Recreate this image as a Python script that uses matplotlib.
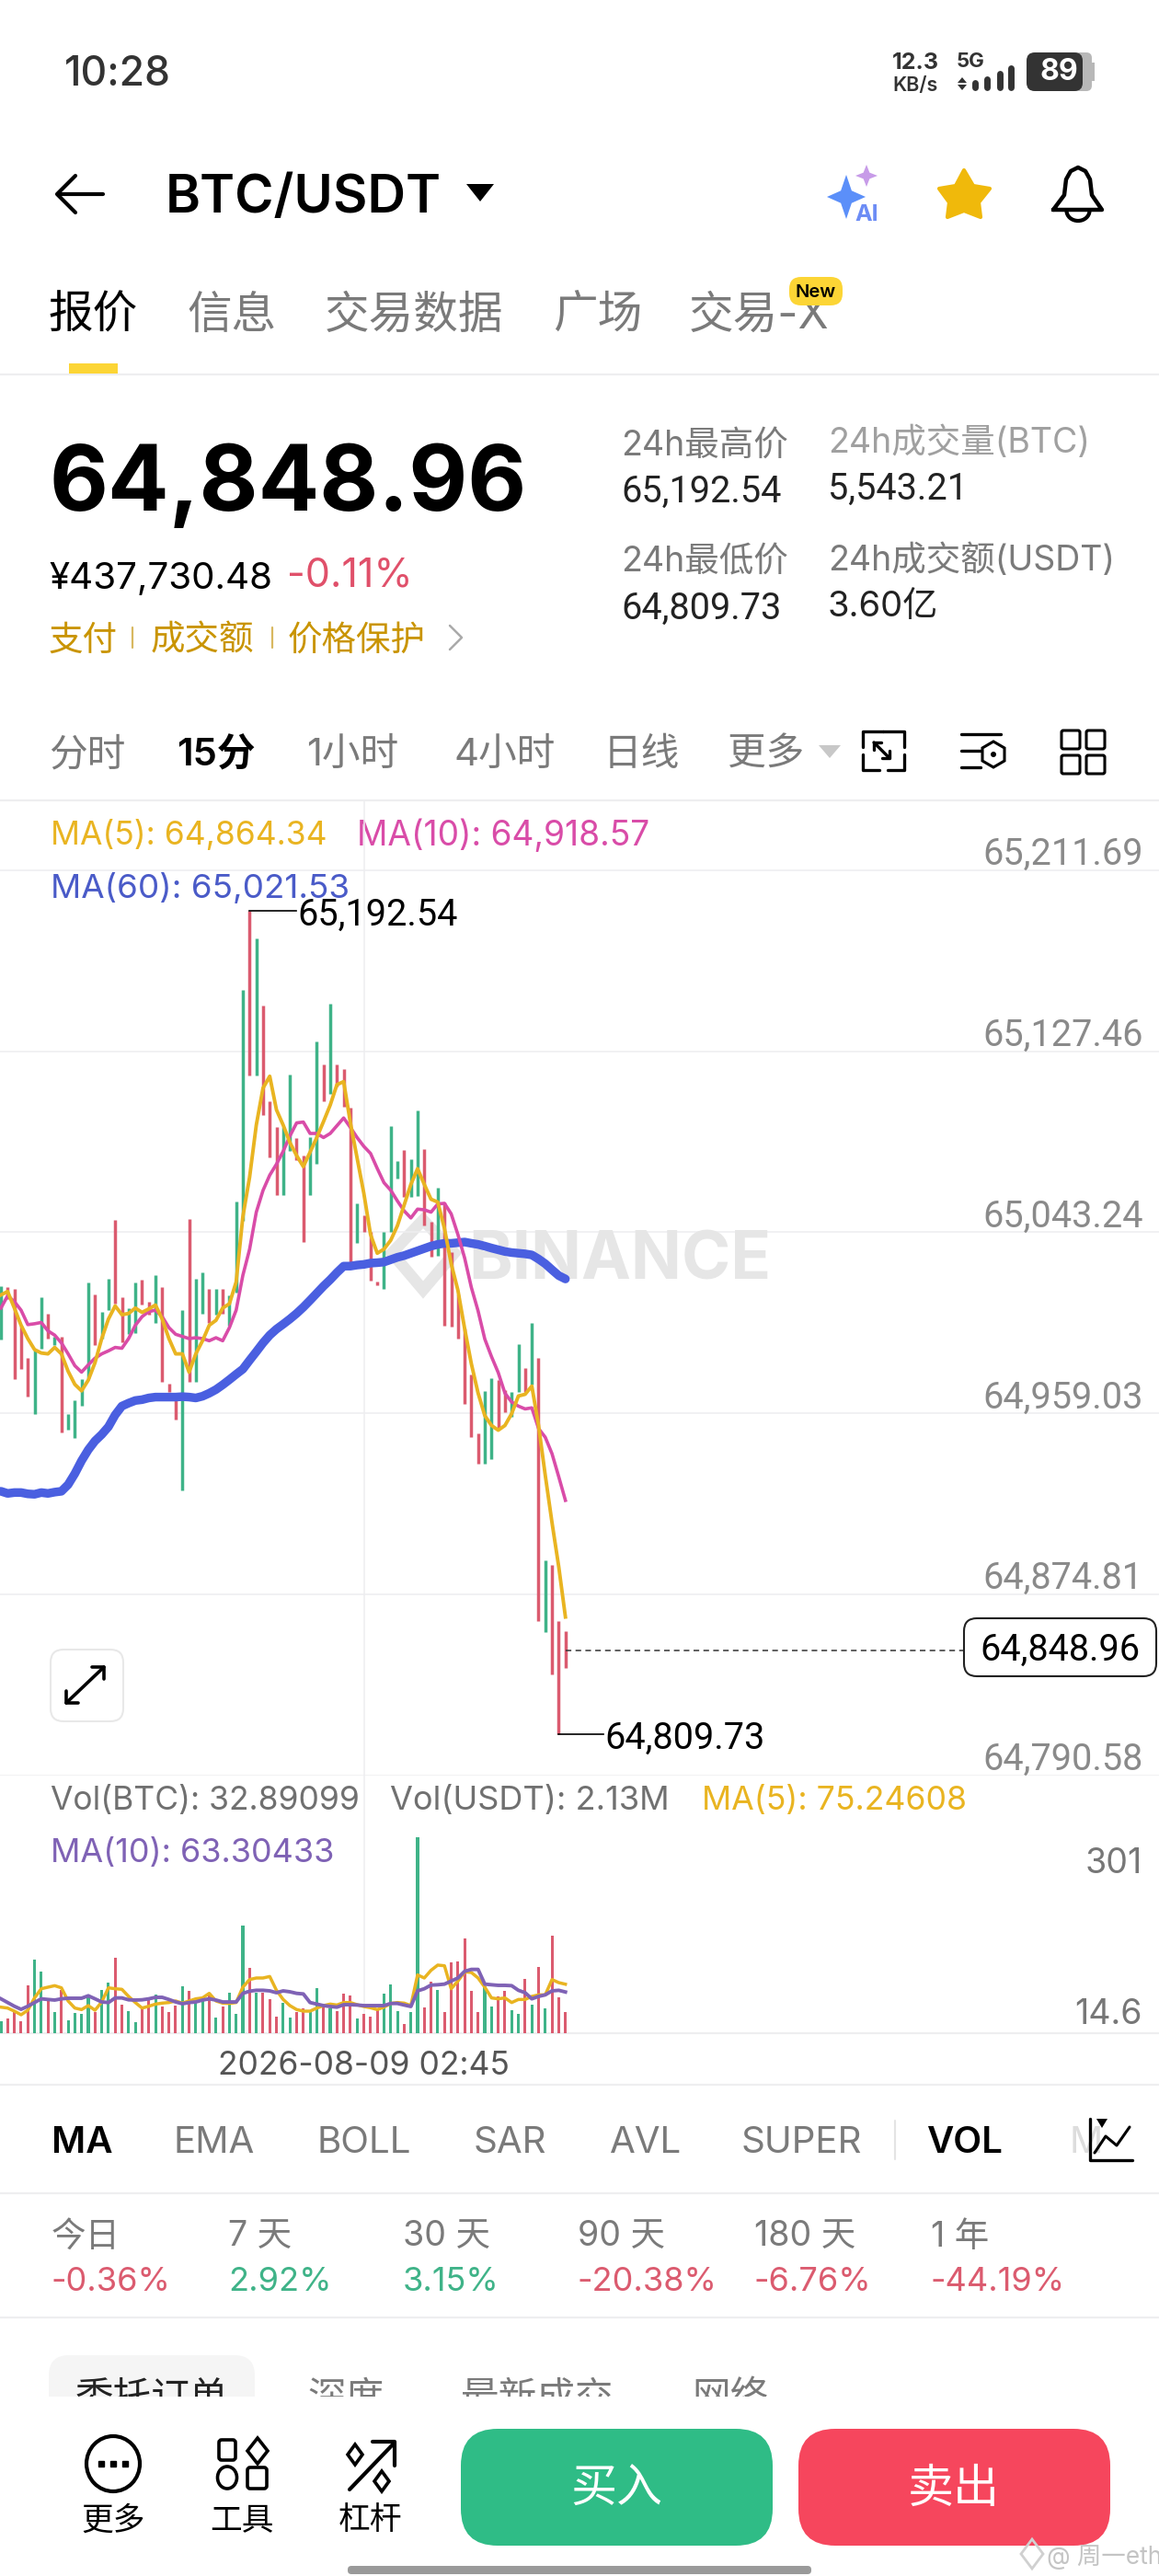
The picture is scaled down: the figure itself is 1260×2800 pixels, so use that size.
# -*- coding: utf-8 -*-
import matplotlib
matplotlib.use("Agg")
import matplotlib.pyplot as plt
from matplotlib.patches import FancyBboxPatch, Rectangle, Circle, Ellipse, Polygon, Arc

plt.rcParams['font.family'] = ['Inter', 'Noto Sans CJK SC', 'DejaVu Sans']
NUM_FONT = ['Roboto', 'DejaVu Sans']   # digitos de ancho fijo

W, H = 1260, 2800

#--- candles, oldest first
kline_high = [65018.1,65017.7,65017.1,65000.0,64984.7,64988.7,65013.0,65005.5,64994.8,64994.8,
              64958.9,64965.0,64975.1,65019.7,65014.5,65006.4,65021.8,65049.1,65013.0,65007.9,
              65020.1,65021.3,65011.0,65023.2,65017.7,64972.9,64967.0,65007.0,65049.5,65021.8,
              65024.8,65016.7,65017.1,65017.1,65014.0,65057.6,65156.0,65192.54,65179.7,65148.8,
              65104.3,65092.1,65092.1,65116.4,65087.0,65078.9,65087.3,65131.9,65121.5,65149.4,
              65121.5,65119.3,65101.0,65056.5,65051.3,65043.6,65020.4,65043.6,65092.8,65076.4,
              65081.3,65077.2,65099.9,65081.9,65048.3,65064.1,65057.3,65034.0,65014.4,64998.5,
              64977.2,64949.9,64969.3,64975.3,64974.5,64969.8,64969.0,64991.1,64980.2,65001.2,
              64984.8,64890.6,64888.6,64862.4,64857.8]
kline_low = [64993.4,65012.0,64975.1,64979.6,64967.0,64958.9,64989.3,64993.8,64990.8,64950.2,
             64951.6,64947.8,64962.4,64975.5,64990.8,64993.8,65007.0,65010.0,64992.2,64995.8,
             64996.2,65009.6,65004.9,65000.9,64973.5,64969.0,64956.3,64923.2,64973.5,64973.5,
             65005.5,65000.9,65004.9,65005.5,65000.0,65015.1,65048.5,65116.0,65116.0,65097.6,
             65077.9,65060.7,65060.7,65080.9,65076.9,65038.8,65060.6,65075.0,65104.3,65107.8,
             65111.1,65101.5,65029.1,65038.1,65043.6,65020.9,65018.7,65017.1,65043.6,65068.2,
             65059.5,65059.5,65060.0,65046.3,65031.9,65032.1,65000.0,64999.3,64993.6,64963.5,
             64947.9,64935.6,64935.6,64937.6,64952.0,64959.7,64957.5,64969.0,64969.0,64972.6,
             64862.4,64857.2,64837.8,64809.73,64840.5]
# g sube, r baja (vela y volumen coinciden)
side = "grrrr" + "ggrgr" + "ggggr" + "ggrrg" + "grrgr" + "rrgrg" + "grgrg" + "ggrgr" + "rrggr" + \
       "rggrg" + "rrrgr" + "rrggg" + "rggrr" + "grrrr" + "rrggr" + "rggrg" + "rgrrr"

ma5 = [65014.1,65015.7,65008.0,65000.0,64993.8,64988.7,64987.1,64986.7,64989.7,64986.7,
       64978.6,64972.5,64969.5,64974.5,64982.6,64993.8,65002.9,65009.0,65004.9,65005.5,
       65008.0,65006.0,65007.6,65009.4,65002.9,64993.8,64986.7,64986.7,64978.2,64986.7,
       64992.8,65000.0,65002.3,65008.0,65010.0,65020.1,65050.5,65068.8,65093.1,65110.3,
       65115.8,65100.2,65093.1,65085.0,65078.9,65073.8,65080.5,65087.3,65094.7,65102.4,
       65111.9,65113.3,65094.2,65077.8,65061.4,65042.2,65033.5,65035.4,65039.5,65046.3,
       65055.9,65065.5,65072.8,65065.5,65058.6,65057.3,65045.0,65028.6,65016.3,64998.5,
       64982.1,64968.5,64958.0,64953.4,64951.2,64953.4,64958.9,64967.1,64967.9,64971.7,
       64953.4,64930.2,64908.3,64887.8,64864.34]
ma10 = [65008.0,65013.7,65011.0,65007.0,65000.3,65000.7,65001.3,64997.4,64995.4,64991.8,
        64986.7,64981.2,64978.2,64981.6,64984.7,64986.7,64988.1,64989.7,64989.3,64993.8,
        65000.0,65004.0,65006.4,65007.0,65004.0,64998.9,64995.8,64994.8,64993.8,64994.2,
        64993.8,64992.8,64994.2,64992.8,64998.9,65007.0,65023.2,65035.3,65052.6,65062.7,
        65069.8,65074.9,65080.9,65088.0,65094.1,65094.5,65089.2,65089.2,65087.3,65089.2,
        65092.8,65096.4,65092.0,65087.3,65083.2,65079.9,65072.9,65066.3,65062.8,65057.8,
        65053.2,65049.9,65054.0,65053.7,65052.6,65056.4,65056.7,65051.8,65042.2,65031.3,
        65017.6,65006.7,64993.6,64985.4,64978.0,64968.4,64964.3,64962.4,64961.1,64961.6,
        64952.0,64947.9,64940.3,64929.6,64918.57]
ma60 = [64922.8,64921.8,64922.2,64922.2,64921.6,64921.4,64922.2,64921.8,64922.4,64922.8,
        64925.9,64931.0,64937.0,64942.1,64946.2,64949.2,64952.8,64958.3,64962.4,64963.8,
        64965.0,64965.4,64966.2,64966.6,64966.6,64966.6,64966.6,64966.8,64966.6,64966.2,
        64967.0,64968.4,64970.1,64972.3,64974.7,64977.2,64979.6,64983.7,64987.7,64991.8,
        64995.4,64998.2,65000.5,65002.9,65005.5,65008.4,65011.6,65014.9,65018.2,65021.2,
        65024.5,65027.5,65027.5,65028.0,65028.3,65028.9,65029.1,65029.4,65030.5,65031.6,
        65032.4,65033.5,65034.6,65035.7,65036.8,65037.6,65038.1,65038.1,65038.4,65038.7,
        65038.1,65037.6,65036.8,65035.9,65035.1,65034.3,65033.8,65033.5,65033.2,65032.7,
        65030.8,65028.6,65025.8,65023.1,65021.53]

#--- volume
vol = [18.8,22.1,32.0,17.9,73.0,113.0,95.1,51.8,33.0,65.9,19.8,30.6,29.2,56.5,32.0,65.9,78.2,
       116.3,43.8,33.9,17.4,41.0,51.8,58.9,41.0,32.0,42.4,71.6,65.0,47.1,51.8,61.2,23.6,41.0,
       62.2,29.2,164.9,99.9,62.2,62.2,52.8,25.9,47.1,23.6,33.0,37.7,33.0,69.7,42.4,37.7,33.9,
       60.3,57.5,22.6,29.7,25.0,37.7,61.2,75.4,33.9,14.1,33.0,301.4,39.1,79.1,65.9,33.0,108.3,
       109.7,145.1,65.0,33.0,71.6,41.0,56.5,65.0,35.3,30.1,83.8,43.3,101.3,38.6,149.3,55.6,32.89]
vol_ma5 = [40.0,38.6,33.9,28.3,35.3,54.2,68.3,70.7,73.0,69.7,49.5,38.6,36.3,42.4,35.3,48.0,69.7,
           68.3,67.4,56.5,47.1,38.6,41.4,44.7,46.2,47.1,49.5,46.2,49.5,52.8,54.2,61.2,49.5,46.2,
           45.7,47.1,70.7,82.4,84.8,84.8,87.1,65.9,51.8,42.4,36.3,33.9,33.9,38.6,42.4,44.7,43.3,
           47.1,47.1,43.8,41.0,39.1,36.3,40.0,45.7,47.1,46.2,42.4,89.5,84.8,96.6,104.6,103.6,68.3,
           80.1,94.2,93.3,84.8,70.7,54.2,52.8,54.2,47.1,51.8,51.8,56.5,58.9,58.9,82.4,77.7,75.25]
vol_ma10 = [52.8,47.1,41.4,36.7,41.4,47.1,52.8,51.8,50.9,52.8,53.7,53.7,53.7,57.5,52.8,48.0,47.1,
            54.2,54.2,51.3,50.9,51.3,52.8,55.1,55.1,51.8,48.0,45.2,47.1,48.0,50.9,52.8,50.9,48.0,
            48.0,48.0,61.2,64.5,65.9,65.9,65.0,62.2,65.0,63.6,61.2,60.3,47.1,44.7,42.4,41.0,40.0,
            43.8,43.8,43.3,42.4,42.4,42.4,42.4,45.7,45.7,43.3,41.0,65.0,68.3,73.9,74.4,75.4,80.1,
            84.8,95.1,98.0,98.0,75.4,74.4,73.5,73.5,73.0,65.9,62.2,52.8,56.5,58.9,65.0,65.9,63.3]

#--- labels
price_ticks = [65211.69, 65127.46, 65043.24, 64959.03, 64874.81, 64790.58]
last_price = 64848.96
date_tick = 54
date_label = "2026-08-09 02:45"
tabs = ["报价", "信息", "交易数据", "广场", "交易-X"]
frames = ["分时", "15分", "1小时", "4小时", "日线", "更多"]
indicators = ["MA", "EMA", "BOLL", "SAR", "AVL", "SUPER", "VOL"]
periods = ["今日", "7 天", "30 天", "90 天", "180 天", "1 年"]
period_vals = ["-0.36%", "2.92%", "3.15%", "-20.38%", "-6.76%", "-44.19%"]
book_tabs = ["委托订单", "深度", "最新成交", "网络"]

GREEN = "#3FB388"
RED = "#DB5B6F"
YEL = "#E9B421"
PINK = "#D94CA8"
BLUE = "#4A5FE0"
PURP = "#7F62B5"
GRID = "#EEEEF0"
GRAY = "#7A7A7A"

fig = plt.figure(figsize=(12.6, 28), dpi=100, facecolor="white")


def area(x0, y0, x1, y1):
    return [x0 / W, 1 - y1 / H, (x1 - x0) / W, (y1 - y0) / H]


ui = fig.add_axes([0, 0, 1, 1])
ui.set_xlim(0, W)
ui.set_ylim(H, 0)
ui.axis("off")


def txt(x, y, s, size, color="black", ha="left", weight="normal", z=5, family=None):
    t = ui.text(x, y + size * 0.13, s, fontsize=size, color=color, ha=ha, va="center", fontweight=weight, zorder=z)
    if family:
        t.set_family(family)
    return t


def hline(y, x0=0, x1=W, c=GRID, lw=1.6):
    ui.plot([x0, x1], [y, y], color=c, lw=lw, solid_capstyle="butt", zorder=1)


def line(xs, ys, c="black", lw=2.4, z=6):
    ui.plot(xs, ys, color=c, lw=lw, solid_capstyle="round", solid_joinstyle="round", zorder=z)


def rbox(x0, y0, x1, y1, r, fc="none", ec="none", lw=1.5, z=3):
    ui.add_patch(FancyBboxPatch((x0 + r, y0 + r), x1 - x0 - 2 * r, y1 - y0 - 2 * r,
                                boxstyle="round,pad=%g,rounding_size=%g" % (r, r),
                                fc=fc, ec=ec, lw=lw, zorder=z))


def sparkle(cx, cy, rx, ry, c):
    ui.add_patch(Polygon([(cx, cy - ry), (cx + rx * 0.28, cy - ry * 0.28), (cx + rx, cy),
                          (cx + rx * 0.28, cy + ry * 0.28), (cx, cy + ry),
                          (cx - rx * 0.28, cy + ry * 0.28), (cx - rx, cy),
                          (cx - rx * 0.28, cy - ry * 0.28)], fc=c, ec="none", zorder=5))


#--- status bar
txt(70, 77, "10:28", 32, "#333333", weight="medium")
txt(970, 66, "12.3", 18, "#333333", weight="bold")
txt(970, 91, "KB/s", 15.5, "#333333", weight="semibold")
txt(1040, 65, "5G", 16, "#333333", weight="bold")
ui.add_patch(Polygon([(1041, 90), (1051, 90), (1046, 84)], fc="#333333", zorder=5))
ui.add_patch(Polygon([(1041, 92), (1051, 92), (1046, 98)], fc="#333333", zorder=5))
for bx, by in zip([1060, 1073, 1087, 1099], [90, 86, 80, 74]):
    line([bx, bx], [by, 95], "#333333", 5)
rbox(1165, 57, 1187, 99, 6, fc="#B8B8B8")
ui.add_patch(Rectangle((1187, 68), 3, 20, fc="#B8B8B8", ec="none", zorder=3))
rbox(1116, 57, 1177, 99, 9, fc="#333333", z=4)
txt(1151, 76, "89", 23, "white", ha="center", weight="bold")

#--- title row
line([64, 112], [211, 211], lw=3)
line([82, 62, 82], [191, 211, 231], lw=3)
txt(180, 211, "BTC/USDT", 41.5, weight="semibold")
ui.add_patch(Polygon([(507, 200), (537, 200), (522, 219)], fc="black", zorder=5))
sparkle(920, 214, 21, 24, "#5B8FF9")
sparkle(942, 191, 12, 12, "#C79BE8")
txt(929, 231, "AI", 18, "#6C8CF5", weight="bold")
ui.add_patch(Polygon([(1048, 185), (1058, 202), (1076, 205), (1064, 220), (1066, 236), (1048, 229),
                      (1030, 236), (1032, 220), (1021, 205), (1039, 202)], fc="#F0B90B", ec="#F0B90B",
                     lw=3, joinstyle="round", zorder=5))
line([1145, 1157, 1159, 1164, 1172, 1180, 1185, 1187, 1198, 1145],
     [228, 212, 195, 186, 182, 186, 195, 212, 228, 228], lw=3.2)
ui.add_patch(Arc((1172, 229), 25, 22, theta1=0, theta2=180, ec="black", lw=3, zorder=6))

#--- tabs
for s, x, c in zip(tabs, [52, 203, 353, 601, 749], ["black"] + [GRAY] * 4):
    txt(x, 339, s, 35, c)
rbox(858, 301, 916, 332, 13, fc="#FCD535", z=6)
txt(887, 316, "New", 14.5, "black", ha="center", weight="semibold", z=7)
ui.add_patch(Rectangle((75, 395), 53, 11, fc="#FCD535", ec="none", zorder=4))
hline(407)

#--- price block
txt(53, 520, "64,848.96", 71, weight="bold")
txt(53, 626, "¥437,730.48", 29)
txt(312, 622, "-0.11%", 31, "#E0506A")
for s, x in zip(["支付", "成交额", "价格保护"], [53, 164, 313]):
    txt(x, 693, s, 27, "#C99400")
for x in [144, 296]:
    line([x, x], [682, 704], "#D8B860", 1.6)
line([489, 502, 489], [680, 693, 706], "#AAAAAA", 1.8)
for s, x, y, c, fs, fam in [("24h最高价", 675, 481, GRAY, 27, None), ("65,192.54", 675, 531, "#222222", 28.5, NUM_FONT),
                            ("24h成交量(BTC)", 900, 478, "#A0A0A0", 27, None), ("5,543.21", 900, 528, "#222222", 28.5, NUM_FONT),
                            ("24h最低价", 675, 608, GRAY, 27, None), ("64,809.73", 675, 658, "#222222", 28.5, NUM_FONT),
                            ("24h成交额(USDT)", 900, 606, GRAY, 27, None), ("3.60亿", 900, 656, "#222222", 27.5, None)]:
    txt(x, y, s, fs, c, family=fam)

#--- timeframe row
for s, x, c, w in zip(frames, [53, 192, 333, 494, 656, 791],
                      [GRAY, "black", GRAY, GRAY, GRAY, GRAY],
                      ["normal", "semibold"] + ["normal"] * 4):
    txt(x, 817, s, 30, c, weight=w)
ui.add_patch(Polygon([(890, 810), (914, 810), (902, 824)], fc="#C8C8C8", zorder=5))
# iconos: recorte, ajustes y cuadricula
line([938, 938, 960], [812, 795, 795]); line([983, 983, 965], [820, 837, 837])
line([960, 983, 983], [795, 795, 812]); line([938, 938, 956], [820, 837, 837])
line([950, 967], [807, 824]); line([950, 950, 958], [815, 807, 807]); line([959, 967, 967], [824, 824, 816])
line([1045, 1088], [798, 798]); line([1045, 1066], [816, 816]); line([1045, 1066], [834, 834])
ui.add_patch(Polygon([(1080, 806), (1092, 813), (1092, 827), (1080, 834), (1068, 827), (1068, 813)],
                     fc="none", ec="black", lw=2.2, zorder=6))
ui.add_patch(Circle((1080, 820), 3, fc="black", zorder=6))
for gx in [1154, 1181]:
    for gy in [794, 821]:
        rbox(gx, gy, gx + 20, gy + 20, 2, ec="black", lw=2.2, z=6)
hline(870)

#--- price chart
grid_top, grid_bot = 945.7, 1930
px_per = (price_ticks[0] - price_ticks[-1]) / (grid_bot - grid_top)
ax = fig.add_axes(area(0, 870, W, grid_bot))
ax.patch.set_alpha(0)
step = 7.306
ax.set_xlim(-1 / step, (W - 1) / step)
ax.set_ylim(price_ticks[-1], price_ticks[0] + (grid_top - 870) * px_per)
for s in ax.spines.values():
    s.set_visible(False)
ax.set_yticks(price_ticks)
ax.set_yticklabels([])
ax.set_xticks([date_tick])
ax.set_xticklabels([])
ax.tick_params(length=0)
ax.grid(True, color=GRID, lw=1.1)
ax.set_axisbelow(True)
for p in price_ticks:
    ax.annotate("{:,.2f}".format(p), (1, p), xycoords=("axes fraction", "data"),
                xytext=(-12.5, 12.5), textcoords="offset points", ha="right", va="center",
                fontsize=28.5, color="#8A8A8A", family=NUM_FONT)

# marca de agua
ax.text(0.535, 65029.5, "BINANCE", transform=ax.get_yaxis_transform(), fontsize=52, fontweight="bold",
        color="#E6E6E6", ha="center", va="center", zorder=1)
ui.add_patch(Polygon([(460, 1326), (494, 1362), (460, 1402), (426, 1362)], fc="none", ec="#E6E6E6", lw=9, zorder=2))

idx = list(range(len(kline_high)))
cols = [GREEN if c == "g" else RED for c in side]
ax.vlines(idx, kline_low, kline_high, colors=cols, lw=2.5, zorder=3)
ax.plot(idx, ma60, color=BLUE, lw=6.8, solid_capstyle="round", zorder=4)
ax.plot(idx, ma10, color=PINK, lw=2.6, zorder=5)
ax.plot(idx, ma5, color=YEL, lw=2.8, zorder=6)

# maximo, minimo y ultimo precio
top = kline_high.index(max(kline_high))
bot = kline_low.index(min(kline_low))
ax.plot([top, top + 7], [max(kline_high)] * 2, color="black", lw=1.2, zorder=7)
ax.plot([bot, bot + 6.7], [min(kline_low)] * 2, color="black", lw=1.2, zorder=7)
ax.annotate("{:,.2f}".format(max(kline_high)), (top + 7.1, max(kline_high)), xytext=(0, -3),
            textcoords="offset points", fontsize=28.5, va="center", zorder=7, family=NUM_FONT)
ax.annotate("{:,.2f}".format(min(kline_low)), (bot + 6.8, min(kline_low)), xytext=(0, -3),
            textcoords="offset points", fontsize=28.5, va="center", zorder=7, family=NUM_FONT)
ax.plot([len(idx) - 1, 143.2], [last_price] * 2, color="#333333", lw=1.1, ls=(0, (4, 3)), zorder=7)
rbox(1048, 1759, 1257, 1822, 14, fc="white", ec="#222222", lw=1.5, z=8)
txt(1152, 1790, "{:,.2f}".format(last_price), 28.5, ha="center", z=9, family=NUM_FONT)

txt(55, 905, "MA(5): 64,864.34", 25.5, YEL, z=8)
txt(388, 905, "MA(10): 64,918.57", 26.7, PINK, z=8)
txt(55, 963, "MA(60): 65,021.53", 26.5, "#4A5BC8", z=8)

rbox(55, 1793, 134, 1871, 14, fc="white", ec="#E8E8E8", lw=1.5, z=8)
line([72, 113], [1851, 1812], lw=2.6, z=9)
line([72, 72, 85], [1838, 1851, 1851], lw=2.6, z=9)
line([100, 113, 113], [1812, 1812, 1825], lw=2.6, z=9)

#--- volume chart
ay = fig.add_axes(area(0, grid_bot, W, 2210))
ay.patch.set_alpha(0)
ay.set_xlim(ax.get_xlim())
ay.set_ylim(0, (2210 - grid_bot) * 301 / 213)
for k, s in ay.spines.items():
    s.set_visible(k == "bottom")
    s.set_color(GRID)
    s.set_linewidth(1.6)
ay.set_yticks([])
ay.set_xticks([date_tick])
ay.set_xticklabels([date_label], fontsize=25.5, color="#555555")
ay.tick_params(length=0, pad=13.5)
ay.grid(True, axis="x", color=GRID, lw=1.1)
ay.set_axisbelow(True)
ay.bar(idx, vol, width=0.42, color=cols, zorder=3)
ay.plot(idx, vol_ma5, color=YEL, lw=2.5, zorder=4)
ay.plot(idx, vol_ma10, color=PURP, lw=2.8, zorder=5)
for v, dy, s in [(301, -21, "301"), (0, 14.6, "14.6")]:
    ay.annotate(s, (1, v), xycoords=("axes fraction", "data"), xytext=(-13, dy), textcoords="offset points",
                ha="right", va="center", fontsize=27, color="#777777")

txt(55, 1954, "Vol(BTC): 32.89099", 25.5, "#707070", z=8)
txt(424, 1954, "Vol(USDT): 2.13M", 26, "#707070", z=8)
txt(763, 1954, "MA(5): 75.24608", 25.7, YEL, z=8)
txt(55, 2011, "MA(10): 63.30433", 25.9, PURP, z=8)

#--- lower rows
hline(2266)
for s, x, c, w in zip(indicators, [56, 188, 344, 515, 663, 806, 1007],
                      ["black"] + [GRAY] * 5 + ["black"],
                      ["semibold"] + ["normal"] * 5 + ["semibold"]):
    txt(x, 2326, s, 29, c, weight=w)
txt(1162, 2326, "M", 29, "#DDDDDD")
line([973, 973], [2305, 2347], "#E4E4E4", 1.5)
line([1185, 1185, 1231], [2303, 2348, 2348], lw=2.4)
line([1190, 1202, 1214, 1228], [2340, 2322, 2332, 2312], lw=2.2)
ui.add_patch(Polygon([(1192, 2303), (1204, 2303), (1198, 2313)], fc="black", zorder=6))
hline(2384)
for s, v, x in zip(periods, period_vals, [56, 248, 438, 628, 820, 1012]):
    txt(x, 2428, s, 27, GRAY)
    txt(x, 2477, v, 26, RED if v.startswith("-") else GREEN)
hline(2519)

rbox(53, 2560, 277, 2680, 22, fc="#F5F5F5", z=1)
for s, x, c in zip(book_tabs, [82, 334, 500, 752], ["#222222", GRAY, GRAY, GRAY]):
    txt(x, 2603, s, 30, c, z=2)
ui.add_patch(Rectangle((0, 2605), W, 195, fc="white", ec="none", zorder=3))

#--- bottom bar
ui.add_patch(Ellipse((123, 2678), 58, 60, fc="none", ec="black", lw=3, zorder=6))
ui.plot([110, 123, 136], [2678] * 3, ls="none", marker="s", ms=4, color="black", zorder=6)
rbox(238, 2652, 256, 2674, 3, ec="black", lw=2.6, z=6)
ui.add_patch(Polygon([(280, 2650), (291, 2664), (280, 2678), (269, 2664)], fc="none", ec="black", lw=2.6, zorder=6))
ui.add_patch(Ellipse((247, 2693), 21, 24, fc="none", ec="black", lw=2.6, zorder=6))
rbox(269, 2682, 290, 2705, 3, ec="black", lw=2.6, z=6)
line([380, 428], [2706, 2656], lw=3)
line([405, 429, 429], [2654, 2654, 2680], lw=3)
for cx, cy in [(386, 2668), (415, 2697)]:
    ui.add_patch(Polygon([(cx, cy - 11), (cx + 8, cy), (cx, cy + 11), (cx - 8, cy)], fc="none", ec="black", lw=2.6, zorder=6))
for s, x in zip(["更多", "工具", "杠杆"], [123, 263, 402]):
    txt(x, 2737, s, 25, ha="center")
rbox(501, 2640, 840, 2767, 40, fc="#2FBC86", z=5)
rbox(868, 2640, 1207, 2767, 40, fc="#F6465D", z=5)
txt(670, 2702, "买入", 36, "white", ha="center", weight="medium", z=6)
txt(1037, 2702, "卖出", 36, "white", ha="center", weight="medium", z=6)
rbox(378, 2789, 882, 2798, 4, fc="#9A9A9A", z=5)
txt(1138, 2777, "@ 周一eth", 19, "#C4C4C4", z=7)
ui.add_patch(Polygon([(1122, 2760), (1134, 2776), (1122, 2792), (1110, 2776)], fc="none", ec="#D0D0D0", lw=2, zorder=7))

fig.savefig("out.png", dpi=100)
